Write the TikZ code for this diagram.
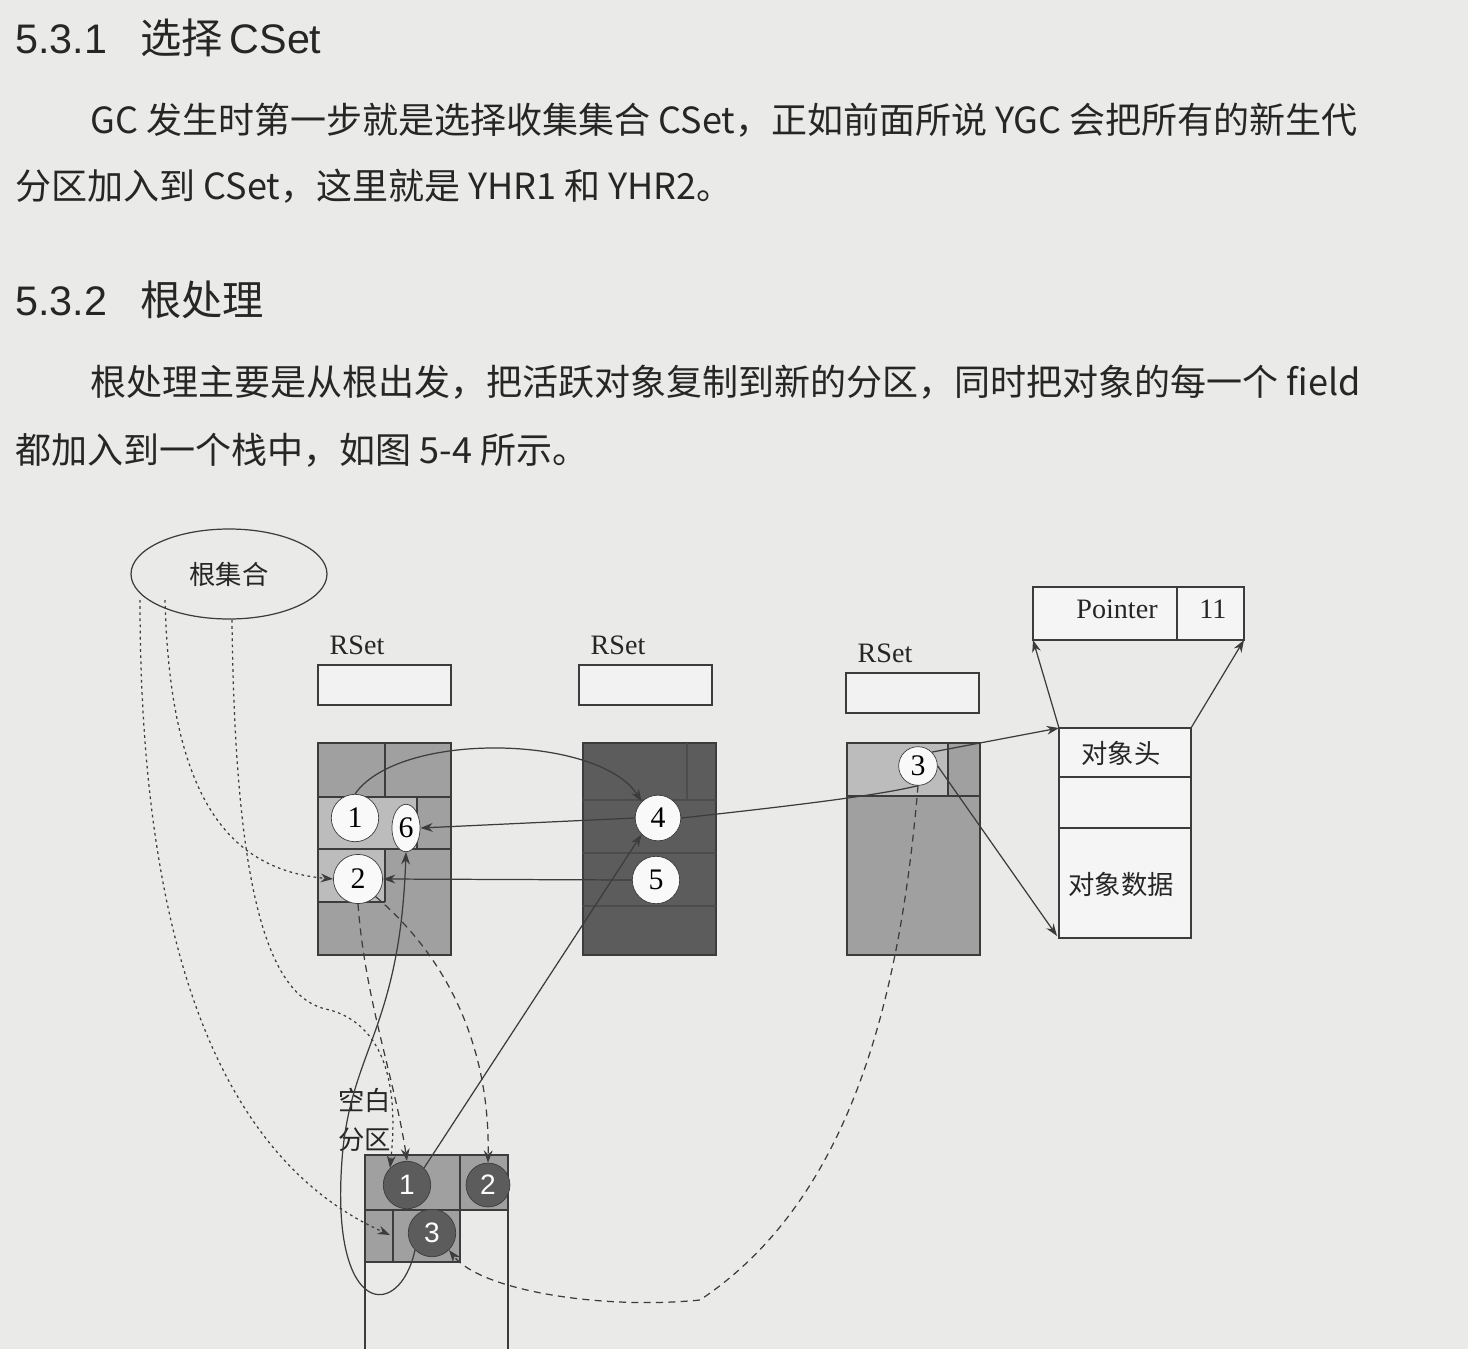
\documentclass[tikz,border=0pt]{standalone}
\usepackage{fontspec}
\setmainfont{Liberation Serif}
\newfontfamily\cjk{Noto Sans CJK SC}
\newfontfamily\hd{Liberation Sans}
\usetikzlibrary{arrows.meta,shapes.geometric}
\definecolor{pagebg}{RGB}{234,234,232}
\definecolor{midg}{RGB}{160,160,160}
\definecolor{lightg}{RGB}{188,188,188}
\definecolor{darkg}{RGB}{92,92,92}
\definecolor{ink}{RGB}{60,60,60}
\begin{document}
\begin{tikzpicture}[x=0.02cm,y=-0.02cm,
  line/.style={draw=ink,line width=0.7pt},
  arr/.style={line,-{Stealth[length=7pt,width=5pt]}},
  dsh/.style={arr,dash pattern=on 4pt off 3pt},
  dot/.style={arr,dash pattern=on 1.5pt off 2pt},
  wc/.style={circle,draw=ink,fill=white!95!gray,minimum size=#1,inner sep=0pt,font=\fontsize{17}{17}\selectfont},
  dc/.style={circle,draw=ink,fill=darkg,text=white,minimum size=#1,inner sep=0pt,font=\hd\fontsize{16}{16}\selectfont},
  body/.style={anchor=west,font=\cjk\fontsize{20.5}{22}\selectfont,text=black!85,inner sep=0pt},
  head/.style={anchor=west,font=\fontsize{23.5}{26}\selectfont,text=black!85,inner sep=0pt},
  lab/.style={font=\fontsize{16}{18}\selectfont,text=black!85,inner sep=0pt}]
\fill[pagebg] (0,0) rectangle (1468,1349);
\useasboundingbox (0,0) rectangle (1468,1349);
% text
\node[head] (h1) at (15,38) {{\hd 5.3.1}\hspace{0.8em}{\cjk 选择}\,{\hd CSet}};
\node[body] (p1) at (90,120) {GC 发生时第一步就是选择收集集合 CSet，正如前面所说 YGC 会把所有的新生代};
\node[body] (p2) at (15,186) {分区加入到 CSet，这里就是 YHR1 和 YHR2。};
\node[head] (h2) at (15,300) {{\hd 5.3.2}\hspace{0.8em}{\cjk 根处理}};
\node[body] (p3) at (90,382) {根处理主要是从根出发，把活跃对象复制到新的分区，同时把对象的每一个 field};
\node[body] (p4) at (15,450) {都加入到一个栈中，如图 5-4 所示。};
% root
\draw[line] (229,574) ellipse [x radius=98,y radius=45];
\node[lab,font=\cjk\fontsize{15}{18}\selectfont] (rootl) at (229,574) {根集合};
% RSets
\node[lab] (r1) at (357,645) {RSet};
\node[lab] (r2) at (618,645) {RSet};
\node[lab] (r3) at (885,653) {RSet};
\draw[line,fill=white!90!gray] (318,665) rectangle (451,705);
\draw[line,fill=white!90!gray] (579,665) rectangle (712,705);
\draw[line,fill=white!90!gray] (846,673) rectangle (979,713);
% region A
\draw[line,fill=midg] (318,743) rectangle (451,955);
\fill[lightg] (318,797) rectangle (417,849);
\fill[lightg] (318,849) rectangle (385,902);
\draw[line] (385,743)--(385,797) (318,797)--(451,797) (417,797)--(417,849) (318,849)--(451,849) (385,849)--(385,902) (318,902)--(385,902);
\draw[line] (318,743) rectangle (451,955);
% region B
\draw[line,fill=darkg] (583,743) rectangle (716,955);
\draw[draw=black!70,line width=0.6pt] (583,800)--(716,800) (583,853)--(716,853) (583,906)--(716,906) (687,743)--(687,800);
% region C
\draw[line,fill=midg] (847,743) rectangle (980,955);
\fill[lightg] (848,744) rectangle (948,796);
\draw[line] (948,743)--(948,796) (847,796)--(980,796);
% object
\draw[line,fill=white!92!gray] (1033,587) rectangle (1244,640);
\draw[line] (1177,587)--(1177,640);
\node[lab] (ptr) at (1117,609) {Pointer};
\node[lab] (eleven) at (1213,609) {11};
\draw[line,fill=white!92!gray] (1059,728) rectangle (1191,938);
\draw[line] (1059,777)--(1191,777) (1059,828)--(1191,828);
\node[lab,font=\cjk\fontsize{15}{18}\selectfont] (oh) at (1121,753) {对象头};
\node[lab,font=\cjk\fontsize{15}{18}\selectfont] (od) at (1121,884) {对象数据};
\coordinate (otl) at (1059,728); \coordinate (otr) at (1191,728);
\coordinate (ptl) at (1033,640); \coordinate (ptr2) at (1244,640);
\coordinate (obl) at (1057,936);
\draw[arr] (otl)--(ptl);
\draw[arr] (otr)--(ptr2);
% new region
\draw[line] (365,1155)--(365,1349) (508,1155)--(508,1349);
\draw[line,fill=midg] (365,1155) rectangle (460,1210);
\draw[line,fill=midg] (460,1155) rectangle (508,1210);
\draw[line,fill=midg] (365,1210) rectangle (393,1262);
\draw[line,fill=midg] (393,1210) rectangle (460,1262);
\node[lab,font=\cjk\fontsize{15}{18}\selectfont,align=left,anchor=west] (blank) at (338,1120) {空白\\[4pt]分区};
% circles
\node[wc=27pt] (c1) at (355,818) {1};
\node[ellipse,draw=ink,fill=white!95!gray,minimum width=16pt,minimum height=27pt,inner sep=0pt,font=\fontsize{17}{17}\selectfont] (c6) at (406,828) {6};
\node[wc=28pt] (c2) at (358,879) {2};
\node[wc=26pt] (c4) at (658,818) {4};
\node[wc=27pt] (c5) at (656,880) {5};
\node[wc=22pt] (c3) at (918,766) {3};
\node[dc=27pt] (n1) at (407,1185) {1};
\node[dc=25pt] (n2) at (488,1185) {2};
\node[dc=27pt] (n3) at (432,1233) {3};
\coordinate (n3cell) at (390,1235);
% connectors
\draw[arr] (c1.north) .. controls (400,730) and (600,735) .. (c4.north west);
\draw[arr] (c4.west) -- (c6.east);
\draw[arr] (c5.west) -- (c2.east);
\draw[line] (c4.east) .. controls (800,805) and (880,795) .. (c3.south);
\draw[arr] (c3.north east) -- (otl);
\draw[arr] (c3.east) -- (obl);
\draw[arr] (n1.north east) -- (c4.south west);
\draw[arr] (n3.south west) .. controls (400,1320) and (330,1320) .. (342,1160) .. controls (350,1050) and (400,1030) .. (c6.south);
\draw[dsh] (c2.south) .. controls (365,1000) and (395,1080) .. (n1.north);
\draw[dsh] (c2.south east) .. controls (450,960) and (490,1050) .. (n2.north);
\draw[dsh] (c3.south) .. controls (900,1000) and (850,1200) .. (700,1300) .. controls (600,1310) and (480,1290) .. (n3.south east);
\draw[dot] (140,600) .. controls (140,900) and (200,1150) .. (n3cell);
\draw[dot] (165,600) .. controls (170,800) and (230,870) .. (c2.west);
\draw[dot] (232,620) .. controls (235,900) and (270,1000) .. (330,1010) .. controls (400,1030) and (395,1120) .. (n1.north west);
\end{tikzpicture}
\end{document}
